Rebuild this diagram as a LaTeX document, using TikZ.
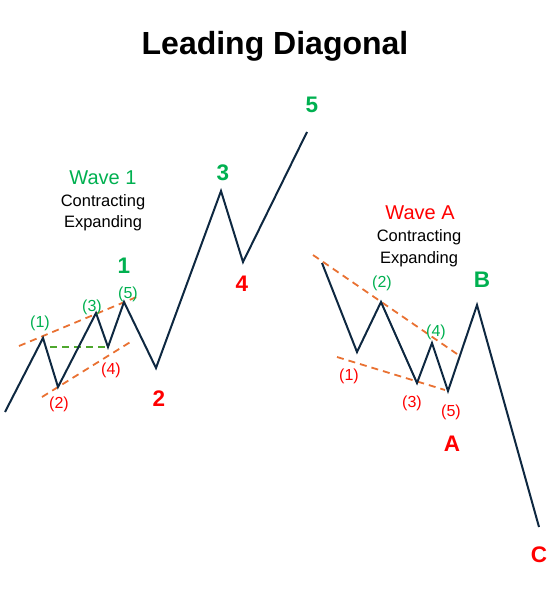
\documentclass[tikz,border=0pt]{standalone}
\usepackage{fontspec}
\setmainfont{Liberation Sans}
\usetikzlibrary{positioning}
\definecolor{wavenavy}{HTML}{0E2841}
\definecolor{wavegreen}{HTML}{00B050}
\definecolor{wavered}{HTML}{FF0000}
\definecolor{chanorange}{HTML}{E97132}
\definecolor{levelgreen}{HTML}{4EA72E}
\tikzset{
  wave/.style={draw=wavenavy, line width=2pt},
  channel/.style={draw=chanorange, line width=1.8pt, dash pattern=on 7pt off 5pt},
  level/.style={draw=levelgreen, line width=1.8pt, dash pattern=on 7pt off 5pt},
  sublbl/.style={anchor=base, inner sep=0pt, font=\fontsize{16}{16}\selectfont},
  mainlbl/.style={anchor=base, inner sep=0pt, font=\fontsize{22.5}{22.5}\selectfont\bfseries},
  headlbl/.style={anchor=base, inner sep=0pt, font=\fontsize{20}{20}\selectfont},
  notelbl/.style={anchor=base, inner sep=0pt, font=\fontsize{16.5}{16.5}\selectfont}
}
\begin{document}
\begin{tikzpicture}[x=1pt,y=-1pt]
\useasboundingbox (0,0) rectangle (547,593);

\node [anchor=base, font=\fontsize{32}{32}\selectfont\bfseries] (title) at (275,55) {Leading Diagonal};

% leading diagonal in wave 1
\coordinate (s0) at (5,412);
\coordinate (s1) at (43,338);
\coordinate (s2) at (58,387);
\coordinate (s3) at (96,313);
\coordinate (s4) at (108,347);
\coordinate (s5) at (124,302);
\coordinate (m2) at (156,368);
\coordinate (m3) at (221,191);
\coordinate (m4) at (243,262);
\coordinate (m5) at (307,132);

% leading diagonal in wave A
\coordinate (r0) at (322,263);
\coordinate (r1) at (357,352);
\coordinate (r2) at (381,302);
\coordinate (r3) at (417,383);
\coordinate (r4) at (432,343);
\coordinate (r5) at (448,391);
\coordinate (mB) at (477,305);
\coordinate (mC) at (539,527);

% channel lines
\coordinate (lu1) at (19,346);  \coordinate (lu2) at (139,296);
\coordinate (ll1) at (42,397);  \coordinate (ll2) at (132,341);
\coordinate (lg1) at (50,347);
\coordinate (ru1) at (313,255); \coordinate (ru2) at (457,354);
\coordinate (rl1) at (337,357); \coordinate (rl2) at (445,390);

\draw [channel] (lu1) -- (lu2);
\draw [channel] (ll1) -- (ll2);
\draw [level] (lg1) -- (s4);
\draw [channel] (ru1) -- (ru2);
\draw [channel] (rl1) -- (rl2);

\draw [wave] (s0) -- (s1) -- (s2) -- (s3) -- (s4) -- (s5) -- (m2) -- (m3) -- (m4) -- (m5);
\draw [wave] (r0) -- (r1) -- (r2) -- (r3) -- (r4) -- (r5) -- (mB) -- (mC);

% titles
\node [headlbl, text=wavegreen] (wave1) at (103,185) {Wave 1};
\node [notelbl] (contr1) at (103,207) {Contracting};
\node [notelbl] (expand1) at (103,228) {Expanding};
\node [headlbl, text=wavered] (waveA) at (420,220) {Wave A};
\node [notelbl] (contrA) at (419,242) {Contracting};
\node [notelbl] (expandA) at (419,263) {Expanding};

% sub wave labels
\node [sublbl, text=wavegreen] (t1) at (40,327) {(1)};
\node [sublbl, text=wavered] (t2) at (59,408) {(2)};
\node [sublbl, text=wavegreen] (t3) at (92,311) {(3)};
\node [sublbl, text=wavered] (t4) at (111,374) {(4)};
\node [sublbl, text=wavegreen] (t5) at (128,298) {(5)};

\node [sublbl, text=wavered] (u1) at (349,380) {(1)};
\node [sublbl, text=wavegreen] (u2) at (382,287) {(2)};
\node [sublbl, text=wavered] (u3) at (412,407) {(3)};
\node [sublbl, text=wavegreen] (u4) at (436,336) {(4)};
\node [sublbl, text=wavered] (u5) at (451,416) {(5)};

% main wave labels
\node [mainlbl, text=wavegreen] (n1) at (124,273) {1};
\node [mainlbl, text=wavered] (n2) at (159,406) {2};
\node [mainlbl, text=wavegreen] (n3) at (223,181) {3};
\node [mainlbl, text=wavered] (n4) at (242,291) {4};
\node [mainlbl, text=wavegreen] (n5) at (312,113) {5};
\node [mainlbl, text=wavered] (nA) at (452,451) {A};
\node [mainlbl, text=wavegreen] (nB) at (482,287) {B};
\node [mainlbl, text=wavered] (nC) at (539,562) {C};

\end{tikzpicture}
\end{document}
